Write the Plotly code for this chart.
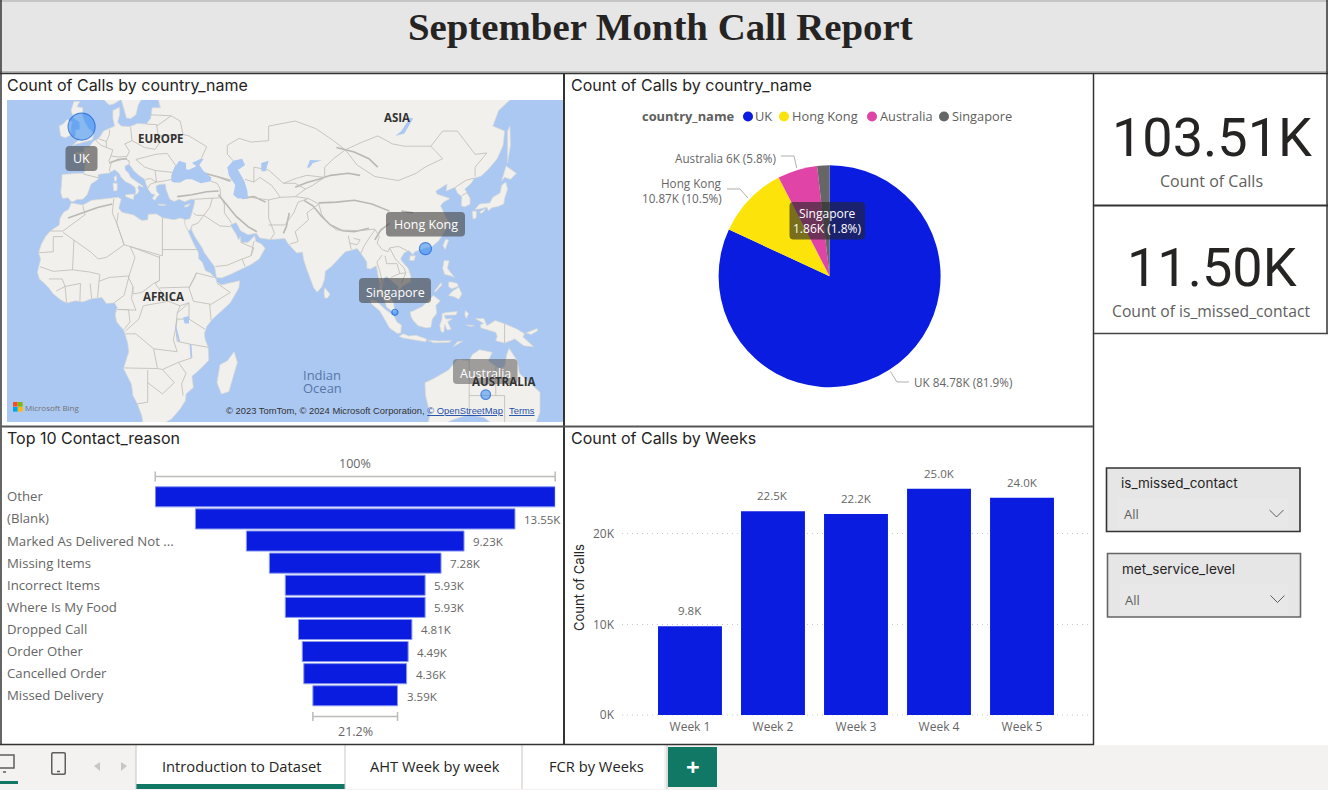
import numpy as np
import plotly.graph_objects as go

W, H = 1328, 790

# ---- report data -------------------------------------------------------
countries = ["UK", "Hong Kong", "Australia", "Singapore"]
country_calls = [84.78, 10.87, 6.00, 1.86]
country_lon = [-2.4, 114.17, 134.6, 103.8]
country_lat = [53.9, 22.3, -25.7, 1.29]

reasons = ["Other", "(Blank)", "Marked As Delivered Not ...", "Missing Items", "Incorrect Items",
           "Where Is My Food", "Dropped Call", "Order Other", "Cancelled Order", "Missed Delivery"]
reason_calls = [16.96, 13.55, 9.23, 7.28, 5.93, 5.93, 4.81, 4.49, 4.36, 3.59]

weeks = ["Week 1", "Week 2", "Week 3", "Week 4", "Week 5"]
week_calls = [9.8, 22.5, 22.2, 25.0, 24.0]
week_ticks = [0, 10, 20]

kpi_total_calls = 103.51
kpi_missed = 11.50

tabs = ["Introduction to Dataset", "AHT Week by week", "FCR by Weeks"]

# ---- basemap geometry, lon/lat ------------------------------------------
land = {
    "eurasia": [(5,62),(5,59),(7,58),(8.5,58.2),(11,59),(11.5,58),(12.8,55.6),(14.3,55.5),(16,56.2),(16.8,58),(18.8,59.8),(18,63),(22,65.5),(25,65),(21.5,62),(22,60.2),(30,60),(26,59.5),(23.5,59.2),(24.3,57.5),(21.5,57.5),(21,55.5),(19.5,54.4),(16.5,54.5),(14,53.9),(11,54),(9.8,54.8),(10.5,56.2),(10.5,57.6),(8.2,57),(8.2,55.5),(8.8,54),(7,53.5),(5,53),(4,52),(3,51.3),(1.6,50.9),(0,49.5),(-1.5,49.6),(-1.6,48.6),(-4.7,48.4),(-2.5,47.3),(-1.2,46),(-1.5,43.5),(-4,43.5),(-9,43.2),(-9.3,40),(-9.5,38.7),(-8.9,37),(-7,37.2),(-6,36.2),(-5.3,36.1),(-4,36.7),(-2,36.8),(-0.5,38),(0,39),(0.8,40.8),(3.2,42),(3.2,43.2),(5,43.4),(7,43.6),(8.8,44.4),(10.3,43.5),(11,42.5),(12.5,41.4),(14.2,40.8),(15.7,40),(16,38.8),(15.7,38),(16.5,38.3),(17.1,39),(16.6,39.8),(17,40.5),(18.4,39.9),(18.4,40.3),(16,41.5),(14.2,42.5),(13.5,43.6),(12.4,44.3),(12.3,45.3),(13.7,45.7),(14.5,45),(15.2,44.2),(17,43),(19,42),(19.5,40.7),(20.2,39.4),(21.2,38.3),(22.5,38),(21.5,37),(22.5,36.5),(23.1,37.4),(24,38),(23,39),(22.8,40.3),(24,40.7),(26,40.8),(26.2,39.5),(27,38),(27.5,36.8),(29,36.2),(30.6,36.8),(32.5,36.1),(34.6,36.8),(36,36.8),(35.8,35.5),(35,33),(34.3,31.3),(32.6,31),(32.6,29.9),(33.3,28.2),(34.2,27.8),(35,29.5),(34.9,28),(36,26),(37.2,24.5),(38.5,22.5),(39.2,21),(40.8,19),(42.7,16.5),(43.3,13),(45,12.8),(48,14),(52,15.7),(55,17.2),(57.8,19),(59.8,22.4),(58.6,23.7),(56.6,24.6),(56.3,26.3),(55,25),(54,24.2),(51.6,24.2),(51.4,26),(50.8,25),(50,26.7),(48,29.5),(50,30.2),(51.5,27.8),(54,26.6),(56.8,27),(58,25.6),(61.5,25.1),(66.5,25.4),(67.5,24),(69,22.3),(70.5,20.9),(72.5,21.2),(72.8,19),(74,15.5),(75,12.8),(76.3,9.5),(77.5,8.1),(79,9.8),(80,12.5),(80.2,15),(82.3,16.6),(85,19.5),(87,21.3),(89,21.8),(91,22.3),(92.3,20.8),(94.3,18),(94.3,16),(95.5,15.8),(97.5,16.8),(98,14),(98.7,10.5),(98.3,8),(100,6),(100.4,5),(101,3),(103.3,1.4),(104.2,1.4),(103.5,3),(103.4,4.5),(102.3,6.2),(100.5,7.2),(99.3,9.3),(100,12.5),(100.9,13.4),(102.5,12),(105,10),(104.8,8.6),(106.8,10.4),(109.2,11.6),(109.2,13.5),(108.3,16),(106,18.5),(105.8,19.2),(107,21),(108.5,21.7),(110,20.4),(110.5,21.3),(113.5,22.3),(116.5,23),(118.6,24.7),(120,26.5),(121.7,29),(122,30.5),(121,32),(119.3,35),(120.3,36),(122.5,37),(120,37.7),(118,38.2),(117.7,39),(119.5,39.8),(121.5,40.8),(121.2,39),(124.2,40),(125,38.5),(126.5,37.5),(126.3,35),(127.5,34.7),(129.3,35.4),(129.3,37),(127.5,39.5),(129.7,41),(130.7,42.3),(133,42.8),(135.5,44.5),(138.5,47),(140.5,50),(141,53),(137,54),(139,57),(143,59),(155,59),(160,61),(170,62),(170,75),(5,75)],
    "africa": [(-5.9,35.8),(-2,35.2),(1,36.5),(5,36.8),(10,37.3),(11,36.8),(10.2,34.3),(11.2,33.2),(15.2,32.4),(18,30.8),(20,31),(20.2,32.6),(23,32.7),(25,31.6),(29,31),(31,31.5),(32.4,31.2),(32.5,30),(33.6,27.8),(35.5,24),(37.2,21),(37.3,19),(38.5,18),(39.6,15.2),(41.2,14.5),(43.2,12.5),(43.3,11.5),(45,10.5),(48,11.2),(51.2,11.9),(50.9,9.5),(48,4.5),(45.3,2),(42,-1),(40,-3.5),(39.2,-6),(39.5,-8),(40.5,-10.5),(40.7,-14.8),(38,-17.5),(35,-20),(35.5,-23.5),(33,-25.5),(32.8,-27.5),(31,-30),(28,-33),(25.7,-34),(20,-34.8),(18.4,-34.2),(18,-32),(16.5,-28.5),(15,-26),(14.5,-22.5),(11.8,-17.5),(13.6,-12),(13.2,-9),(12,-5),(9.5,-2),(9,0.5),(9.7,3),(8.7,4.5),(6,4.3),(4.5,6.3),(1,5.9),(-2,4.8),(-4.5,5.2),(-7.5,4.4),(-9.5,5.5),(-12,7.5),(-13.5,9.5),(-15,11),(-16.7,12.5),(-17.4,14.7),(-16.3,19),(-17,21),(-16,23.8),(-14.5,26.2),(-13,27.7),(-10,29.5),(-9.7,31.5),(-8.5,33.2),(-6.8,34)],
    "britain": [(-5.5,50),(1.3,51.2),(1.7,52.7),(0,53.5),(-1.5,55),(-2,56),(-2,57.5),(-4,57.7),(-3,58.6),(-5,58.6),(-6,57),(-5,55.5),(-3.2,54.8),(-3,53.4),(-4.5,53.2),(-4.5,52),(-5.2,51.7),(-3,51.3)],
    "ireland": [(-6,52.2),(-6,53.8),(-5.6,54.8),(-7.3,55.3),(-8.5,54.5),(-10,54),(-9.5,52),(-8,51.6)],
    "sicily": [(12.5,38),(15.5,38.2),(15.1,36.7),(12.6,37.5)],
    "sardinia": [(8.2,41),(9.7,41),(9.6,39.1),(8.5,39)],
    "corsica": [(8.6,42.5),(9.4,43),(9.5,42),(9.1,41.4),(8.7,41.8)],
    "crete": [(23.6,35.5),(26.2,35.3),(25.5,35),(23.6,35.2)],
    "cyprus": [(32.4,35),(34.5,35.6),(33.8,34.9),(32.8,34.6)],
    "sri_lanka": [(80,9.6),(81.8,7.5),(81,6.1),(80,6.1),(79.8,8)],
    "taiwan": [(121,25.2),(122,25),(120.9,22),(120.1,23.2)],
    "hainan": [(109,20),(110.8,20),(110.3,18.5),(108.8,18.5)],
    "honshu": [(131,34),(132.5,35.5),(136,35.8),(137,37.3),(139.5,38.5),(140,40.5),(141.4,41.3),(142,39.5),(141,37),(140.7,35.5),(138.8,34.8),(136.8,34.5),(135.5,33.6),(135,34.6),(132.5,34.1)],
    "kyushu": [(130,33.5),(131.5,33.5),(131.3,31.5),(130.3,31.2)],
    "shikoku": [(132.5,33.3),(134.5,34.2),(134,33.4),(133,32.8)],
    "hokkaido": [(140,41.6),(141.5,45.3),(145,43.5),(143,42),(141,42.5)],
    "sakhalin": [(142,46),(143,50),(142.8,54),(142,53),(142,48)],
    "luzon": [(120.5,18.5),(122.2,18.4),(121.6,16),(124,13),(122.5,13.6),(120.7,14),(120,16)],
    "visayas": [(122,11.5),(123.2,11.5),(125,11),(125.3,10),(123,9.2),(122,10)],
    "mindanao": [(122,7),(123.5,8.6),(125.5,9.7),(126.5,7.5),(125.5,5.7),(124,6.5)],
    "palawan": [(117.2,8.4),(119.5,11.3),(119.7,10.5),(117.6,8.2)],
    "sumatra": [(95.3,5.6),(97.5,5.2),(100.3,2.5),(103.5,0),(104.5,-2),(106,-3),(105.8,-5.8),(104.5,-5.8),(102,-4),(100.5,-1.5),(98.7,1.7),(96,4)],
    "borneo": [(109,1.5),(110,1.7),(111.3,2.4),(113,3.2),(115,5),(116.8,7),(119.2,5.2),(117.7,3.6),(118,1),(116.5,-1),(116,-3.8),(114.5,-4),(111.7,-3.3),(110,-1.5),(109.2,0)],
    "java": [(105.2,-6.8),(106.7,-6),(108.5,-6.7),(111,-6.5),(114.5,-7.7),(114.3,-8.7),(110,-8),(106.5,-7.4)],
    "sulawesi": [(119.8,0.8),(121,1.2),(125,1.6),(124.5,0.4),(120.5,0.3),(121,-1),(123.3,-0.9),(121.7,-1.9),(122.9,-4.5),(121.5,-4.7),(120.7,-2.8),(120.4,-5.5),(119.5,-5.3),(119,-3.2),(119.8,-0.8)],
    "sunda": [(115,-8.2),(119,-8.4),(123,-8.3),(122,-8.9),(117,-9)],
    "timor": [(123.6,-10.3),(126.8,-8.5),(125,-8.7)],
    "halmahera": [(127.7,1.9),(128.8,0.8),(128,-0.8),(127.5,0.5)],
    "seram": [(128,-3),(130.8,-3.2),(129.5,-3.5)],
    "new_guinea": [(131,-0.8),(134,-0.8),(135,-3.3),(137.8,-1.5),(141,-2.6),(145,-4.3),(147.8,-6),(147.2,-7),(150.8,-10.3),(147.5,-10),(144.5,-7.7),(141,-9.1),(138,-8.3),(138.5,-6.8),(138,-5.5),(133,-4),(132.8,-2.9),(134,-2.5)],
    "new_britain": [(148.3,-5.7),(152,-4.2),(152.2,-5),(150,-6.2)],
    "australia": [(114,-22),(114.2,-26),(115.7,-31.5),(115,-34.3),(118,-35),(124,-33),(129,-31.6),(134,-32.5),(138,-35),(141,-38),(146,-39),(150,-37.5),(153,-31),(153,-25),(150,-22.5),(146,-19),(145.3,-15),(142.5,-10.8),(141.7,-13),(141,-17),(139,-17.5),(135.5,-15),(136.8,-12.2),(132.5,-11.3),(130,-13),(129,-15),(125,-14.5),(122,-18),(117,-20.7)],
    "madagascar": [(49.3,-12),(50.4,-15.5),(47.5,-24.8),(45,-25.5),(43.5,-22),(44.5,-16.3),(47,-15)],
}

inland_water = [
    [(28,41.5),(28,43),(29,44.8),(30.7,46.5),(33,46),(33,44.5),(34,44.4),(36.5,45.2),(35,46),(38,47),(39,47),(37.5,45.5),(39,44),(41.5,42.5),(41.5,41.5),(38,41),(35,42),(33,42),(31,41.2),(29,41.2)],
    [(47,45),(49,46.5),(52,47),(53,45.5),(51,44.5),(50.5,44.5),(52.8,41.5),(53.8,39),(54,37),(50.5,37),(49,38),(49.7,40.5),(47.5,43)],
    [(58.5,46),(61,46.5),(60,44),(58.5,44)],
    [(74,44.8),(75,46.7),(79,46.6),(76,46),(75,45)],
    [(104,52),(107,52.5),(110,55.5),(109,55.7),(106,53)],
    [(32,-0.5),(34,0),(34,-2.5),(32.5,-2.5)],
    [(29.2,-3.5),(29.7,-3.5),(31,-8.5),(30.3,-8.5)],
    [(34.2,-9.7),(34.8,-9.7),(35,-14),(34.5,-14)],
]

borders = [
    [(-1.7,43.3),(3.2,42.4)],
    [(2.5,51),(4.2,50),(6,49.5),(8.2,49),(7.5,47.6),(6.8,46.4),(7.6,45.9),(7,44.2),(7.5,43.8)],
    [(14.2,53.8),(14.7,51),(12.2,50.3),(13.8,48.7),(13,47.5),(10,47.4),(7.5,47.6)],
    [(3.4,51.4),(6,50.8),(6,49.5)], [(6,50.8),(7,52.3),(7.1,53.3)],
    [(19.5,54.4),(23,54.3),(24,50.5),(22.5,49.1),(19,49.5),(14.7,51)],
    [(7,46),(10,46.5),(12.2,47),(13.7,46.5),(13.7,45.7)],
    [(16,46.8),(22.8,48),(26.6,48.2),(29.5,45.4),(28.6,43.7),(22.5,44.2),(19,45),(16,46.8)],
    [(22.5,44.2),(23,41.3),(26.3,41.7),(28,42)], [(19.3,42),(21,42.2),(23,41.3),(20.9,40.8),(20,39.7)],
    [(24,50.5),(24,52),(32,52.3),(34,52),(40,49.7),(38.2,47.1)],
    [(23,54),(28,56),(31,55),(32,52.3)], [(21,56.2),(28,56)], [(36,36.8),(42,37.2),(44.8,37.2),(44.5,39.7),(43.5,41),(41.5,41.5)],
    [(40,43.4),(44,42.7),(48.5,41.8)],
    [(44.8,37.2),(46,35.5),(46,33),(48.5,30)],
    [(42,37.2),(41,34.5),(39,32.3),(36.5,32.3),(35.5,33)], [(39,32.3),(37,30),(35,29.4)],
    [(39,32.3),(44.5,29.2),(46.5,29.1),(48,29)],
    [(43,16.6),(47,17),(52,19),(55,20),(56,22.5),(51.6,24.2)], [(53,16.6),(52,19)], [(55,20),(55.5,22),(56,24.6)],
    [(54,37.4),(61,36.6),(61,31.5),(63,27),(61.6,25.1)],
    [(61,29.5),(66.5,29.5),(69.5,33),(71,36),(74.5,37)], [(61,36.6),(65,37.3),(70,37.5),(74.5,37)],
    [(53,42),(56,41.3),(58,42.5),(62,40.5),(65,37.3)],
    [(56,41.3),(56,45),(61,44.3),(66,41),(70,41),(73.5,39.5),(70,37.5)],
    [(66,41),(70.5,42.3),(74,43),(80,42.5)],
    [(49,46.5),(47,48),(47,50),(51,51.5),(55,50.7),(61,51),(61,54),(70,55),(77,53.5),(83,51),(87,49)],
    [(87,49),(83,47),(80,45),(80,42.5),(76,40.5),(73.5,39.5)],
    [(74.5,37),(78,35.5),(79,32.5),(81,30.2),(84,28),(88,27.8),(92,27.8),(97,28.3),(98.5,26),(97.8,24),(99.5,22),(101.5,21.3),(102,22.5),(105,23),(108,21.6)],
    [(78,35.5),(74,33),(74.5,31),(70,27.5),(71,24.5),(68.2,23.7)],
    [(88,26.3),(88.5,24),(89,22)], [(88.5,24),(91,23.5),(92,25),(89.8,25.5)],
    [(92.3,20.8),(93.3,23),(94.7,25),(97,28)],
    [(99.5,20.3),(97.7,18),(98.7,15),(99.5,11.5),(98.7,10.2)],
    [(100.5,20),(101,17.5),(104.5,17.5),(105.5,14.3),(102.5,13)],
    [(102,22.5),(104,19),(107,16),(107.5,14.5),(106,11)], [(105.5,14.3),(107.5,14.5)], [(100.3,6.5),(102,6.2)],
    [(87,49),(92,50.5),(98,52),(103,50.3),(107,49.8),(116,49.8),(120,47),(114,45),(111,43.5),(105,41.7),(97,42.7),(91,45.5),(87,49)],
    [(116,49.8),(120,53),(125,53),(131,48),(135,48.3),(131,45),(131,42.7)],
    [(124.3,40),(128,41.8),(130.7,42.3)], [(126.5,37.8),(128.4,38.6)],
    [(-2,35),(-1.2,32.5),(-8.7,27.7),(-13,27.7)], [(-8.7,26),(-12,26),(-12,21.3),(-17,21)],
    [(-8.7,27.3),(-5,25),(1,21),(3.2,19),(6,19.5),(12,23.5),(9.5,30),(8,33),(8.5,36.9)],
    [(10,33),(9.5,30),(12,23.5),(14,23),(25,20),(25,31.6)], [(25,22),(36.8,22)],
    [(24,20),(24,12),(22.5,11),(27,5)], [(34,9.5),(36,13),(36.5,14.5)],
    [(14,23),(24,19.5)], [(24,12),(22,11),(18,8),(15,7.5),(15,10),(13.5,13),(15.7,19.5),(14,23)],
    [(3.5,11.7),(3.8,14),(0.2,14.8),(-5.5,15.5),(-5,25)], [(-16.5,16.5),(-12,15),(-5.5,15.5)],
    [(3,6.3),(3.5,11.7),(7,13),(13.7,13.5),(12,7),(8.7,4.6)],
    [(15,10),(14.5,6),(16,2),(9.8,2.3)],
    [(-3,5),(-2.8,11),(-5.5,10.5),(-8,10),(-7.5,4.4)], [(1,6),(0.5,11)],
    [(-13.5,12.5),(-9,12.5),(-8,10),(-11,8.5)], [(24,9.5),(34,9.8)],
    [(36.5,14.5),(34,9.5),(35.5,5),(41.5,4),(48,8),(43.5,11)], [(36.5,14.5),(42.5,13)],
    [(34,4.5),(34,-1),(39.5,-4.5)], [(41.5,-1.5),(41,4)],
    [(12.5,-6),(16,-6),(22,-11),(30,-12),(28.7,-8),(29.5,-4),(30,1),(31,3.5),(27,5),(18.5,3.5),(17,-1),(12.5,-5)],
    [(12,-17.3),(23.3,-17.5),(22,-11)],
    [(34,-1),(30,-1),(29.5,-4),(30,-8.5),(34.5,-9.5),(40.5,-10.5)],
    [(34.5,-9.5),(35,-14),(30.4,-15.5),(25,-17.8),(23.3,-17.5)], [(30.4,-15.5),(33,-19),(31.5,-22.4),(32,-26)],
    [(20,-18),(20,-28),(16.5,-28.5)], [(20,-22),(25,-25.5),(29,-22),(25,-17.8)],
    [(9.8,2.2),(13.5,2.2),(14,-2),(12,-4.5)], [(30,1),(34,4.5),(31,3.5)],
    [(141,-2.6),(141,-9.1)], [(129,-15),(129,-31.6)], [(138,-17),(138,-26),(141,-26),(141,-38)], [(129,-26),(138,-26)],
]

ridges = [
    [(73,36.5),(76,35),(79,32),(82,29.5),(86,27.8),(90,27.5),(95,28.5)],
    [(78,35.8),(84,36),(90,36.5),(96,35.5),(102,33.5)],
    [(70,40),(74,41.2),(78,42),(82,43),(88,43.5),(92,43)],
    [(84,49.5),(90,48.5),(95,47),(98,45)],
    [(44,38),(47,35),(50,32),(54,29),(57,27.5)],
    [(39,43.6),(44,42.6),(48,41.5)], [(30,37.5),(35,38),(40,38.8),(44,39)],
    [(7,46),(10,46.8),(13,47)], [(-7,31.5),(-2,33),(3,34.5),(8,35.5)],
    [(68,33),(67,29),(66,27)], [(52,37),(56,37.5),(60,36)],
    [(97,25),(99,28),(102,30)], [(106,33.5),(110,33)],
]


def merc(lat):
    """Web Mercator ordinate for a latitude in degrees."""
    return np.log(np.tan(np.radians(45 + np.asarray(lat, dtype=float) / 2)))


def geo_line(parts, closed=False):
    """Flatten a list of lon/lat runs into None-separated x/y arrays."""
    xs, ys = [], []
    for run in parts:
        pts = list(run) + ([run[0]] if closed else [])
        xs += [p[0] for p in pts] + [None]
        ys += [float(merc(p[1])) for p in pts] + [None]
    return xs, ys


# ---- layout helpers, working in page pixels ------------------------------
def fx(px):
    return px / W


def fy(py):
    return 1 - py / H


shapes = []
annotations = []

DIN = "Inter"
BODY = "Open Sans"


def rect(x0, y0, x1, y1, fill=None, line=None, lw=1, layer="below"):
    shapes.append(dict(type="rect", xref="paper", yref="paper", x0=fx(x0), x1=fx(x1), y0=fy(y0), y1=fy(y1),
                       fillcolor=fill or "rgba(0,0,0,0)", line=dict(color=line or "rgba(0,0,0,0)", width=lw if line else 0),
                       layer=layer))


def seg(points, color, lw=1, layer="above"):
    path = "M " + " L ".join(f"{fx(x):.5f},{fy(y):.5f}" for x, y in points)
    shapes.append(dict(type="path", xref="paper", yref="paper", path=path, line=dict(color=color, width=lw), layer=layer))


def round_rect(x0, y0, x1, y1, r, fill):
    p = (f"M {fx(x0+r)},{fy(y0)} L {fx(x1-r)},{fy(y0)} Q {fx(x1)},{fy(y0)} {fx(x1)},{fy(y0+r)} "
         f"L {fx(x1)},{fy(y1-r)} Q {fx(x1)},{fy(y1)} {fx(x1-r)},{fy(y1)} "
         f"L {fx(x0+r)},{fy(y1)} Q {fx(x0)},{fy(y1)} {fx(x0)},{fy(y1-r)} "
         f"L {fx(x0)},{fy(y0+r)} Q {fx(x0)},{fy(y0)} {fx(x0+r)},{fy(y0)} Z")
    shapes.append(dict(type="path", xref="paper", yref="paper", path=p, fillcolor=fill, line=dict(width=0), layer="above"))


def dot(cx, cy, r, fill):
    shapes.append(dict(type="circle", xref="paper", yref="paper", x0=fx(cx-r), x1=fx(cx+r), y0=fy(cy-r), y1=fy(cy+r),
                       fillcolor=fill, line=dict(width=0), layer="above"))


def label(x, y, text, size=12, color="#666666", family=BODY, anchor="left", bold=False, valign="middle"):
    if bold:
        text = f"<b>{text}</b>"
    annotations.append(dict(xref="paper", yref="paper", x=fx(x), y=fy(y), text=text, showarrow=False,
                            xanchor=anchor, yanchor=valign, borderpad=0, borderwidth=0,
                            font=dict(size=size, color=color, family=family)))


def trim(v):
    return f"{v:.2f}".rstrip("0").rstrip(".")


BLUE = "#0A1CE0"
YELLOW = "#FCE30A"
PINK = "#E044A7"
GREY = "#666666"
DARK = "#252423"
EDGE = "#333333"

# ---- page chrome ---------------------------------------------------------
rect(0, 0, W, 72, fill="#E6E6E6")
label(660, 27, "September Month Call Report", size=38.8, color=DARK, family="Liberation Serif", anchor="center", bold=True)

rect(7, 100, 563, 422, fill="#ABC8F2")  # ocean behind the basemap

rect(0, 745, W, 790, fill="#F3F2F1")
rect(136, 745, 664, 789, fill="#FFFFFF")
rect(136, 784, 345, 789, fill="#117865", layer="above")
for x in (136, 345, 522, 667):
    seg([(x, 745), (x, 789)], "#C8C6C4", 1)
tab_x = [241, 435, 596]
for name, x in zip(tabs, tab_x):
    label(x, 766, name, size=14.7, color=DARK, family=BODY, anchor="center")
rect(668, 747, 717, 787, fill="#F3F2F1", layer="above")
rect(668, 747, 717, 787, fill="#117865", layer="above")
label(692.5, 766, "<b>+</b>", size=24, color="#FFFFFF", family=BODY, anchor="center")

# view switcher and page arrows
seg([(0, 755), (14, 755), (14, 768), (0, 768)], "#605E5C", 1.5)
seg([(3, 772), (6, 772)], "#605E5C", 1.5)
rect(0, 781, 18, 784, fill="#117865", layer="above")
round_rect(51, 752, 66, 775, 2, "#605E5C")
round_rect(52.5, 753.5, 64.5, 773.5, 1, "#F3F2F1")
seg([(57, 771.5), (60, 771.5)], "#605E5C", 1.5)
for pts in ([(100, 762), (94, 766), (100, 771)], [(121, 762), (127, 766), (121, 771)]):
    path = "M " + " L ".join(f"{fx(x):.5f},{fy(y):.5f}" for x, y in pts) + " Z"
    shapes.append(dict(type="path", xref="paper", yref="paper", path=path, fillcolor="#C8C6C4", line=dict(width=0), layer="above"))

# panel frames
seg([(0, 1), (W, 1)], "#BBBBBB", 1.5)
seg([(0, 72), (W, 72)], "#888888", 1)
seg([(0, 73.5), (W, 73.5)], EDGE, 1.5)
seg([(1, 0), (1, 745)], EDGE, 1.5)
seg([(1327, 0), (1327, 334)], EDGE, 1.5)
seg([(564, 73), (564, 745)], EDGE, 2)
seg([(1093.5, 73), (1093.5, 745)], EDGE, 1.5)
seg([(1, 426.5), (1093, 426.5)], "#555555", 2)
seg([(0, 744.5), (1094, 744.5)], EDGE, 1.5)
seg([(1094, 205.5), (W, 205.5)], EDGE, 2)
seg([(1094, 333.5), (W, 333.5)], "#444444", 1.5)

# panel titles
label(7, 85, "Count of Calls by country_name", size=16, color=DARK, family=DIN)
label(571, 85, "Count of Calls by country_name", size=16, color=DARK, family=DIN)
label(7, 438, "Top 10 Contact_reason", size=16, color=DARK, family=DIN)
label(571, 438, "Count of Calls by Weeks", size=16, color=DARK, family=DIN)

# KPI cards
label(1212, 137, f"{kpi_total_calls:.2f}K", size=54, color=DARK, family="Roboto", anchor="center")
label(1211, 181, "Count of Calls", size=16, color="#605E5C", family=BODY, anchor="center")
label(1212, 267, f"{kpi_missed:.2f}K", size=54, color=DARK, family="Roboto", anchor="center")
label(1211, 311, "Count of is_missed_contact", size=15.7, color="#605E5C", family=BODY, anchor="center")

# slicers
for (x0, y0, x1, y1, edge, name) in ((1106.5, 468, 1300, 531.5, "#333333", "is_missed_contact"),
                                     (1107.5, 553.5, 1300.5, 617, "#666666", "met_service_level")):
    rect(x0, y0, x1, y1, fill="#E6E6E6", line=edge, lw=1.6)
    rect(x0 + 12, y0 + 31, x1 - 12, y1 - 3, fill="#E8E8E8")
    label(x0 + 14, y0 + 15, name, size=13.5, color=DARK, family=DIN)
    label(x0 + 17, y0 + 46, "All", size=13, color="#605E5C", family=BODY)
    seg([(x0 + 163, y0 + 42), (x0 + 170, y0 + 49), (x0 + 177, y0 + 42)], "#605E5C", 1)

# ---- map panel -----------------------------------------------------------
fig = go.Figure()

lx, ly = geo_line(list(land.values()), closed=True)
fig.add_trace(go.Scatter(x=lx, y=ly, mode="lines", fill="toself", fillcolor="#F1F0EC",
                         line=dict(color="#DAD8D2", width=0.7), hoverinfo="skip", showlegend=False, xaxis="x", yaxis="y"))
rx, ry = geo_line(ridges)
fig.add_trace(go.Scatter(x=rx, y=ry, mode="lines", line=dict(color="rgba(110,108,102,0.42)", width=1.6),
                         hoverinfo="skip", showlegend=False, xaxis="x", yaxis="y"))
bx, by = geo_line(borders)
fig.add_trace(go.Scatter(x=bx, y=by, mode="lines", line=dict(color="#C4C1BA", width=0.9),
                         hoverinfo="skip", showlegend=False, xaxis="x", yaxis="y"))
wx, wy = geo_line(inland_water, closed=True)
fig.add_trace(go.Scatter(x=wx, y=wy, mode="lines", fill="toself", fillcolor="#ABC8F2", line=dict(width=0),
                         hoverinfo="skip", showlegend=False, xaxis="x", yaxis="y"))

bubble_size = [27 * (v / max(country_calls)) ** 0.39 for v in country_calls]
fig.add_trace(go.Scatter(x=country_lon, y=merc(country_lat).tolist(), mode="markers", text=countries,
                         marker=dict(size=bubble_size, color="rgba(50,140,245,0.78)", line=dict(color="#0B5CD5", width=1.2)),
                         showlegend=False, xaxis="x", yaxis="y"))

for x0, y0, x1, y1, fill in ((65.5, 146, 97.5, 171, "rgba(70,70,70,0.62)"),
                             (386, 212, 465, 236.5, "rgba(70,70,70,0.62)"),
                             (359, 278, 431, 303, "rgba(70,70,70,0.62)"),
                             (453, 359, 517.5, 384, "rgba(90,90,90,0.55)")):
    round_rect(x0, y0, x1, y1, 4, fill)
for name, x, y in (("UK", 81.5, 159), ("Hong Kong", 425.5, 225), ("Singapore", 395, 292), ("Australia", 485.5, 373)):
    label(x, y, name, size=12.5, color="#FFFFFF", anchor="center")

label(161, 138, "EUROPE", size=11.5, color="#333333", family="Open Sans", anchor="center", bold=True)
label(397, 117, "ASIA", size=11.5, color="#333333", family="Open Sans", anchor="center", bold=True)
label(163, 296, "AFRICA", size=11.5, color="#333333", family="Open Sans", anchor="center", bold=True)
label(503, 381, "AUSTRALIA", size=11.5, color="#333333", family="Open Sans", anchor="center", bold=True)
label(322, 375, "Indian", size=13, color="#5577A8", family="Open Sans", anchor="center")
label(322, 388, "Ocean", size=13, color="#5577A8", family="Open Sans", anchor="center")

for x0, y0, color in ((13, 402, "#F25022"), (18, 402, "#7FBA00"), (13, 407, "#00A4EF"), (18, 407, "#FFB900")):
    rect(x0, y0, x0 + 4.6, y0 + 4.6, fill=color, layer="above")
label(25, 407, "Microsoft Bing", size=8, color="#737373", family="Open Sans")
label(226, 410, "© 2023 TomTom, © 2024 Microsoft Corporation, "
      "<span style='color:#1F4EA8'><u>© OpenStreetMap</u></span>", size=9.4, color="#333333", family="Liberation Sans")
label(509, 410, "<u>Terms</u>", size=9.4, color="#1F4EA8", family="Liberation Sans")

# ---- pie panel -----------------------------------------------------------
PIE_CX, PIE_CY, PIE_R = 829.6, 276.2, 111
fig.add_trace(go.Pie(labels=countries, values=country_calls, sort=False, direction="clockwise", rotation=0,
                     marker=dict(colors=[BLUE, YELLOW, PINK, GREY], line=dict(width=0)), textinfo="none",
                     showlegend=False,
                     domain=dict(x=[fx(PIE_CX - PIE_R), fx(PIE_CX + PIE_R)], y=[fy(PIE_CY + PIE_R), fy(PIE_CY - PIE_R)])))

label(642, 116, "country_name", size=12.9, color="#605E5C", bold=True)
legend_spots = [(748, 755), (784, 792), (872, 880), (944, 952)]
for name, color, (d, t) in zip(countries, [BLUE, YELLOW, PINK, GREY], legend_spots):
    dot(d, 116.5, 5, color)
    label(t, 116, name, size=12.8, color="#605E5C")

total_share = sum(country_calls)
cum = np.cumsum(country_calls) - np.array(country_calls) / 2
mid_angle = 2 * np.pi * cum / total_share
leader_points = {
    "UK": [(897, 382), (909, 382)],
    "Hong Kong": [(740, 189), (727, 189)],
    "Australia": [(794, 156), (781, 156)],
}
for i, name in enumerate(countries):
    if name not in leader_points:
        continue
    start = (PIE_CX + (PIE_R + 2) * np.sin(mid_angle[i]), PIE_CY - (PIE_R + 2) * np.cos(mid_angle[i]))
    seg([start] + leader_points[name], "#B3B0AD", 1)


def pie_text(i):
    return f"{trim(country_calls[i])}K ({country_calls[i] / total_share * 100:.1f}%)"


label(914, 382, f"UK {pie_text(0)}", size=11.7, color="#666666")
label(722, 183, "Hong Kong", size=11.7, color="#666666", anchor="right")
label(722, 198, pie_text(1), size=11.7, color="#666666", anchor="right")
label(776, 158, f"Australia {pie_text(2)}", size=11.7, color="#666666", anchor="right")

round_rect(789.5, 202, 865, 239.5, 4, "rgba(38,38,38,0.62)")
label(827, 213.5, "Singapore", size=12, color="#FFFFFF", anchor="center")
label(827, 228, pie_text(3), size=12, color="#FFFFFF", anchor="center")

# ---- contact-reason funnel -----------------------------------------------
FUN_L, FUN_R = 155.2, 555.2
FUN_T, FUN_B = 485.75, 706.85
half = reason_calls[0] / 2
fig.add_trace(go.Funnel(y=reasons, x=reason_calls, orientation="h", textinfo="none",
                        marker=dict(color=BLUE, line=dict(color="#8C9BF0", width=1)),
                        connector=dict(visible=False), showlegend=False, xaxis="x2", yaxis="y2"))

px_per_k = (FUN_R - FUN_L) / reason_calls[0]
FUN_C = (FUN_L + FUN_R) / 2
for i, (name, v) in enumerate(zip(reasons, reason_calls)):
    row_y = FUN_T + (i + 0.5) * (FUN_B - FUN_T) / len(reasons)
    label(7, row_y - 0.5, name, size=13.2, color="#666666")
    if i > 0:
        label(FUN_C + v / 2 * px_per_k + 9, row_y + 0.5, f"{v:.2f}K", size=11.5, color="#666666")

# span markers above and below the funnel
seg([(FUN_L, 476.5), (FUN_R, 476.5)], "#BDBBB9", 1.5)
seg([(FUN_L, 471.5), (FUN_L, 481.5)], "#BDBBB9", 1.5)
seg([(FUN_R, 471.5), (FUN_R, 481.5)], "#BDBBB9", 1.5)
label(FUN_C, 463.5, "100%", size=12.5, color="#666666", anchor="center")
last_half = reason_calls[-1] / 2 * px_per_k
seg([(FUN_C - last_half, 716.5), (FUN_C + last_half, 716.5)], "#BDBBB9", 1.5)
seg([(FUN_C - last_half, 712), (FUN_C - last_half, 721)], "#BDBBB9", 1.5)
seg([(FUN_C + last_half, 712), (FUN_C + last_half, 721)], "#BDBBB9", 1.5)
label(FUN_C, 731, f"{reason_calls[-1] / reason_calls[0] * 100:.1f}%", size=12.5, color="#666666", anchor="center")

# ---- weekly column chart -------------------------------------------------
fig.add_trace(go.Bar(x=weeks, y=week_calls, marker=dict(color=BLUE, line=dict(width=0)),
                     showlegend=False, xaxis="x3", yaxis="y3"))
for week, v in zip(weeks, week_calls):
    annotations.append(dict(xref="x3", yref="y3", x=week, y=v, yshift=6, text=f"{v:.1f}K", showarrow=False,
                            xanchor="center", yanchor="bottom",
                            font=dict(size=11.5, color="#666666", family=BODY)))
annotations.append(dict(xref="paper", yref="paper", x=fx(579), y=fy(588), text="Count of Calls", textangle=-90, showarrow=False,
                        xanchor="center", yanchor="middle", font=dict(size=13, color=DARK, family=DIN)))
shapes.append(dict(type="line", xref="paper", yref="paper", x0=fx(622), x1=fx(1088), y0=fy(715), y1=fy(715),
                   line=dict(color="#C8C8C8", width=1, dash="1px,4px"), layer="below"))

# ---- axes ----------------------------------------------------------------
hidden = dict(visible=False, fixedrange=True, automargin=False)
fig.update_layout(
    template="none",
    width=W, height=H, autosize=False, margin=dict(l=0, r=0, t=0, b=0, pad=0),
    paper_bgcolor="#FFFFFF", plot_bgcolor="rgba(0,0,0,0)",
    showlegend=False, funnelgap=0.09, bargap=0.23,
    shapes=shapes, annotations=annotations, font=dict(family=BODY),
    xaxis=dict(hidden, domain=[fx(7), fx(563)], range=[-27.7, 160.8], anchor="y"),
    yaxis=dict(hidden, domain=[fy(422), fy(100)], range=[-0.6266, 1.2787], anchor="x"),
    xaxis2=dict(hidden, domain=[fx(FUN_L), fx(FUN_R)], range=[-half, half], anchor="y2"),
    yaxis2=dict(hidden, domain=[fy(FUN_B), fy(FUN_T)], autorange=False, range=[9.5, -0.5], type="category",
                anchor="x2"),
    xaxis3=dict(domain=[fx(622), fx(1088)], range=[-0.819, 4.795], anchor="y3", showgrid=False, showline=False,
                ticks="", fixedrange=True, automargin=False,
                tickfont=dict(size=12, color="#666666", family=BODY), ticklabelstandoff=3),
    yaxis3=dict(domain=[fy(715), fy(460)], range=[0, 28.17], anchor="x3", tickmode="array", tickvals=week_ticks,
                ticktext=[f"{t}K" for t in week_ticks],
                showgrid=True, gridcolor="#C8C8C8", griddash="1px,4px", gridwidth=1, zeroline=False, showline=False,
                ticks="", fixedrange=True, automargin=False,
                tickfont=dict(size=12, color="#666666", family=BODY), ticklabelstandoff=7),
)

fig.write_html("out.html", config=dict(displayModeBar=False))
